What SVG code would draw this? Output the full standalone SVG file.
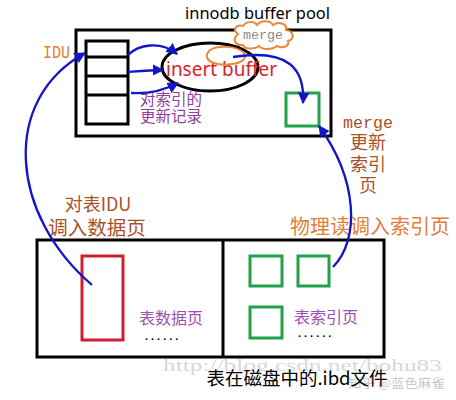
<svg xmlns="http://www.w3.org/2000/svg" width="456" height="400" viewBox="0 0 456 400">
<defs>
<marker id="ah" viewBox="0 0 10 10" refX="9" refY="5" markerWidth="5" markerHeight="5" orient="auto" markerUnits="strokeWidth">
<path d="M0,0 L10,5 L0,10 z" fill="#1414c8"/>
</marker>
<style>
.box{fill:none;stroke:#000;stroke-width:3}
.grn{fill:none;stroke:#22a04a;stroke-width:3}
.red{fill:none;stroke:#d02030;stroke-width:3}
.arr{fill:none;stroke:#1414c8;stroke-width:2.3;marker-end:url(#ah)}
.cjk{font-family:"Noto Sans CJK SC","Noto Sans",sans-serif}
.mono{font-family:"Liberation Mono","Noto Sans CJK SC",monospace}
.brown{fill:#a8522a}
.orange{fill:#e08038}
.purple{fill:#9040a0}
.dots{font-family:"Liberation Sans",sans-serif;font-size:11px;font-weight:bold;fill:#000;letter-spacing:3px}
</style>
</defs>
<rect width="456" height="400" fill="#fff"/>

<g id="watermark">
<text x="163" y="371" font-family="Liberation Serif,serif" font-size="17" fill="#d8d8d8" textLength="279" lengthAdjust="spacingAndGlyphs">http://blog.csdn.net/bohu83</text>
<text x="348" y="388" class="cjk" font-size="12.5" fill="#c8c8c8" textLength="97" lengthAdjust="spacingAndGlyphs">知乎 @蓝色麻雀</text>
</g>

<g id="buffer-pool">
<rect class="box" x="76" y="30" width="255" height="106"/>
<text x="185" y="19" font-family="Noto Sans,sans-serif" font-size="16" fill="#000" textLength="145" lengthAdjust="spacingAndGlyphs">innodb buffer pool</text>
</g>

<g id="idu-stack">
<rect class="box" x="86" y="41" width="42" height="83"/>
<line class="box" x1="86" y1="57" x2="128" y2="57"/>
<line class="box" x1="86" y1="76" x2="128" y2="76"/>
<line class="box" x1="86" y1="95" x2="128" y2="95"/>
<text x="43" y="58" class="mono orange" font-size="18" textLength="27" lengthAdjust="spacingAndGlyphs">IDU</text>
<text x="140" y="105" class="cjk purple" font-size="15.5">对索引的</text>
<text x="140" y="122" class="cjk purple" font-size="15.5">更新记录</text>
</g>

<g id="insert-buffer">
<ellipse cx="210" cy="67" rx="48" ry="24" fill="none" stroke="#000" stroke-width="3"/>
<text x="166" y="76" font-family="Noto Sans,sans-serif" font-size="19" fill="#e0202a" textLength="111" lengthAdjust="spacingAndGlyphs">insert buffer</text>
</g>

<g id="merge-cloud">
<path d="M238,34 C232,30 236,24 243,26 C246,21 254,21 257,25 C261,20 270,20 273,25 C279,21 288,24 286,30 C294,31 295,39 288,41 C290,46 282,49 277,46 C272,50 262,50 259,46 C254,50 244,49 243,45 C235,46 232,39 238,34 z" fill="#fff" stroke="#e88838" stroke-width="2"/>
<text x="243" y="39" class="mono" font-size="13" fill="#8a8a8a" textLength="40" lengthAdjust="spacingAndGlyphs">merge</text>
<path d="M210,50 C218,45 236,46 243,52 C248,57 243,63 232,64 C220,66 208,63 207,57 C206,54 208,52 210,50 z" fill="none" stroke="#e88838" stroke-width="2"/>
</g>

<g id="index-page-mem">
<rect class="grn" x="286" y="93" width="33" height="33"/>
</g>

<g id="merge-label">
<text x="343" y="128" class="mono brown" font-size="16" textLength="50" lengthAdjust="spacingAndGlyphs">merge</text>
<text x="368" y="149" class="cjk brown" font-size="18" text-anchor="middle">更新</text>
<text x="368" y="171" class="cjk brown" font-size="18" text-anchor="middle">索引</text>
<text x="368" y="192" class="cjk brown" font-size="18" text-anchor="middle">页</text>
</g>

<g id="disk">
<rect class="box" x="37" y="240" width="347" height="117"/>
<line class="box" x1="223" y1="240" x2="223" y2="357"/>
<text x="297" y="385" class="cjk" font-size="18.5" fill="#000" text-anchor="middle">表在磁盘中的.ibd文件</text>
</g>

<g id="data-page">
<rect class="red" x="82" y="256" width="41" height="84"/>
<text x="139" y="324" class="cjk" font-size="16" fill="#a050b0">表数据页</text>
<text x="145" y="340" class="dots">......</text>
</g>

<g id="index-pages">
<rect class="grn" x="250" y="256" width="32" height="30"/>
<rect class="grn" x="298" y="256" width="31" height="30"/>
<rect class="grn" x="250" y="307" width="32" height="31"/>
<text x="294" y="323" class="cjk" font-size="16" fill="#a050b0">表索引页</text>
<text x="298" y="337" class="dots">......</text>
</g>

<g id="labels">
<text x="98" y="211" class="cjk brown" font-size="18" text-anchor="middle">对表IDU</text>
<text x="97" y="235" class="cjk brown" font-size="19.5" text-anchor="middle">调入数据页</text>
<text x="370" y="234" class="cjk orange" font-size="20" text-anchor="middle">物理读调入索引页</text>
</g>

<g id="connectors">
<path class="arr" d="M128,55 C138,45 160,40 177,54"/>
<path class="arr" d="M128,72 C140,71 150,70 163,70"/>
<path class="arr" d="M131,93 C150,94 165,90 178,83"/>
<path class="arr" d="M233,57 C290,48 305,70 303,103"/>
<path class="arr" d="M92,285 C10,215 0,100 85,53"/>
<path class="arr" d="M333,267 C360,240 358,180 319,126"/>
</g>
</svg>
